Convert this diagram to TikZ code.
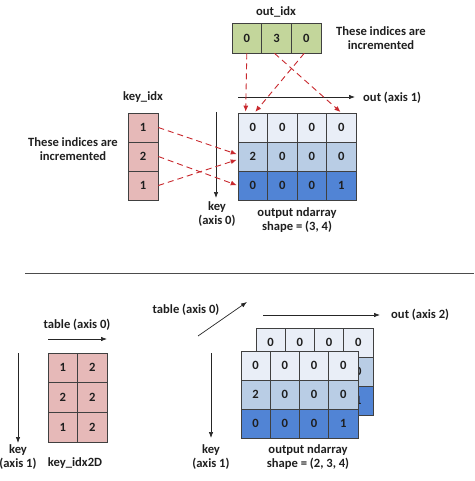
\documentclass[tikz,border=0pt]{standalone}
\usepackage{fontspec}
\setmainfont{Carlito}
\usetikzlibrary{arrows.meta}
\definecolor{rowA}{HTML}{E9EEF7}
\definecolor{rowB}{HTML}{B9CDE5}
\definecolor{rowC}{HTML}{5184D5}
\definecolor{gcell}{HTML}{C3D69B}
\definecolor{pcell}{HTML}{E6B9B8}
\definecolor{idxred}{HTML}{C8282D}
\begin{document}
\begin{tikzpicture}[x=1pt,y=-1pt,
  txt/.style={font=\fontsize{12.6}{14}\selectfont\bfseries, text=black!88, align=center, inner sep=0pt},
  cell/.style={draw=black!75, line width=0.7pt, minimum width=29.5pt, minimum height=29pt, inner sep=0pt, font=\fontsize{12.6}{14}\selectfont\bfseries, text=black!88},
  axisarrow/.style={-{Latex[length=6pt,width=4.5pt]}, line width=0.7pt, black!85},
  idxarrow/.style={idxred, dash pattern=on 6pt off 4pt, line width=0.9pt, -{Latex[length=6pt,width=5pt]}, shorten >=1pt},
]
\useasboundingbox (0,0) rectangle (474,481);

% ---------- top part ----------
\node[txt] (outidxlbl) at (276,12) {out\_idx};
\foreach \v [count=\ci from 0] in {0,3,0}
  \node[cell, fill=gcell, minimum width=29.7pt, minimum height=30pt] (oi-\ci) at ({246.8+29.7*\ci},38) {\v};
\node[txt] (incR) at (381,38.5) {These indices are\\incremented};

\node[txt] (keyidxlbl) at (143,97) {key\_idx};
\foreach \v [count=\ci from 0] in {1,2,1}
  \node[cell, fill=pcell, minimum width=30pt] (ki-\ci) at (143,{127.5+29*\ci}) {\v};
\node[txt] (incL) at (73,149.5) {These indices are\\incremented};

\foreach \r/\col/\vals in {0/rowA/{0,0,0,0},1/rowB/{2,0,0,0},2/rowC/{0,0,0,1}}
  \foreach \v [count=\ci from 0] in \vals
    \node[cell, fill=\col] (o-\r-\ci) at ({252.75+29.5*\ci},{127.5+29*\r}) {\v};

\coordinate (ax1s) at (238,97);
\coordinate (ax1e) at (355,97);
\draw[axisarrow] (ax1s) -- (ax1e);
\node[txt, anchor=west] (ax1lbl) at (363,98) {out (axis 1)};

\coordinate (ax0s) at (216,112);
\coordinate (ax0e) at (216,198);
\draw[axisarrow] (ax0s) -- (ax0e);
\node[txt] (ax0lbl) at (217,214) {key\\(axis 0)};

\node[txt] (outlbl) at (297,220) {output ndarray\\shape = (3, 4)};

\draw[idxarrow] (oi-0.south) -- ([xshift=8pt]o-0-0.north west);
\draw[idxarrow] ([xshift=-2pt]oi-1.south) -- (o-0-3.north);
\draw[idxarrow] ([xshift=-2pt]oi-2.south) -- ([xshift=17pt]o-0-0.north west);

\draw[idxarrow] (ki-0.east) -- ([yshift=2pt]o-1-0.west);
\draw[idxarrow] (ki-1.east) -- (o-2-0.west);
\draw[idxarrow] (ki-2.east) -- ([yshift=-3pt]o-1-0.west);

% ---------- separator ----------
\coordinate (sepL) at (25,273);
\coordinate (sepR) at (474,273);
\draw[line width=0.9pt, black!70] (sepL) -- (sepR);

% ---------- bottom left ----------
\node[txt] (tbl0lbl) at (77,325) {table (axis 0)};
\coordinate (t0s) at (48,339);
\coordinate (t0e) at (107,339);
\draw[axisarrow] (t0s) -- (t0e);
\foreach \r/\vals in {0/{1,2},1/{2,2},2/{1,2}}
  \foreach \v [count=\ci from 0] in \vals
    \node[cell, fill=pcell, minimum height=29.7pt] (k2-\r-\ci) at ({62.75+29.5*\ci},{367.8+29.7*\r}) {\v};
\coordinate (k1s) at (18,353);
\coordinate (k1e) at (18,443);
\draw[axisarrow] (k1s) -- (k1e);
\node[txt] (k1lbl) at (18,457) {key\\(axis 1)};
\node[txt] (k2lbl) at (75,463) {key\_idx2D};

% ---------- bottom right ----------
\node[txt] (tbl0lbl2) at (186,310) {table (axis 0)};
\coordinate (d0s) at (198,336);
\coordinate (d0e) at (247,302);
\draw[axisarrow] (d0s) -- (d0e);
\coordinate (a2s) at (263,315);
\coordinate (a2e) at (380,315);
\draw[axisarrow] (a2s) -- (a2e);
\node[txt, anchor=west] (a2lbl) at (391,315) {out (axis 2)};
\coordinate (b1s) at (211,353);
\coordinate (b1e) at (211,438);
\draw[axisarrow] (b1s) -- (b1e);
\node[txt] (b1lbl) at (211,457) {key\\(axis 1)};

\foreach \r/\col/\vals in {0/rowA/{0,0,0,0},1/rowB/{2,0,0,0},2/rowC/{0,0,0,1}}
  \foreach \v [count=\ci from 0] in \vals
    \node[cell, fill=\col, minimum width=29.25pt] (bk-\r-\ci) at ({270.6+29.25*\ci},{342.5+29*\r}) {\v};
\foreach \r/\col/\vals in {0/rowA/{0,0,0,0},1/rowB/{2,0,0,0},2/rowC/{0,0,0,1}}
  \foreach \v [count=\ci from 0] in \vals
    \node[cell, fill=\col, minimum width=29.25pt] (fr-\r-\ci) at ({255.6+29.25*\ci},{365.5+29*\r}) {\v};

\node[txt] (out3lbl) at (308,457) {output ndarray\\shape = (2, 3, 4)};
\end{tikzpicture}
\end{document}
